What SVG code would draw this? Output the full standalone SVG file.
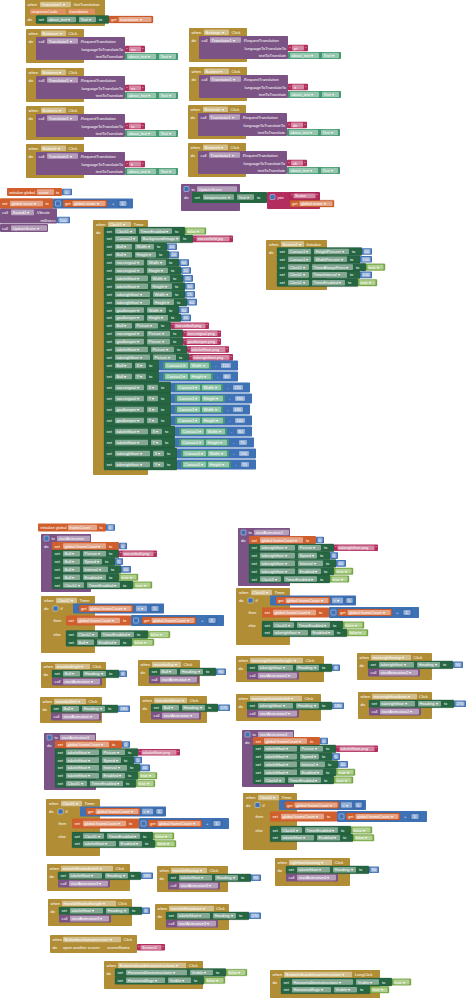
<svg xmlns="http://www.w3.org/2000/svg" width="468" height="998" viewBox="0 0 468 998">
<style>
text{font-family:"Liberation Sans",Arial,sans-serif;font-size:4px;fill:#fff;dominant-baseline:central}
.ra{text-anchor:end}
rect{rx:.8px}
.E{fill:#b18e35}.P{fill:#7c5385}.O{fill:#d05f2d}.G{fill:#266643}.N{fill:#3f71b5}.R{fill:#b32d5e}
.g{fill:#266643;stroke:#1c4e33;stroke-width:.3;y:-3.9px;height:7.8px}
.gm{fill:#266643;stroke:#1c4e33;stroke-width:.3;y:-5.5px;height:11px}
.f{fill:#fff;fill-opacity:.44;y:-2.8px;height:5.6px}
.v{fill:#fff;fill-opacity:.44;y:-2.4px;height:4.8px}
.n{fill:#3f71b5;y:-3.3px;height:6.6px}
.k{stroke:#2b5797;stroke-width:.3}
.b{fill:#77ab41;stroke:#5e8a30;stroke-width:.3;y:-3.3px;height:6.6px}
.r{fill:#b32d5e;y:-3.3px;height:6.6px}
.o{fill:#d05f2d;y:-3.9px;height:7.8px}
.og{fill:#d05f2d;stroke:#a8481f;stroke-width:.3;y:-3.4px;height:6.8px}
.c{fill:#439970;y:-3.6px;height:7.2px}
.nm{fill:#3f71b5;y:-5px;height:10px}
.p{fill:#7c5385;y:-3.9px;height:7.8px}
.pm{fill:#e09060;y:-2.8px;height:5.6px}
.ic{fill:#3f71b5;stroke:#fff;stroke-width:.4;y:-2.5px;width:5px;height:5px}
</style>
<rect width="468" height="998" fill="#fff" rx="0"/>
<g id="connectors"/>

<g id="gotTranslation">
<rect class="E" x="25" y="-2" width="80" height="28"/>
<g transform="translate(25,4.5)"><text x="2.5">when</text><rect class="f" x="15" width="31"/><text x="16.5">Translator1 ▾</text><text x="48.5">GotTranslation</text></g>
<g transform="translate(25,11.5)"><rect class="pm" x="5" width="36"/><text x="6.5">responseCode</text><rect class="pm" x="43" width="27"/><text x="44.5">translation</text></g>
<g transform="translate(25,19.5)"><text x="2.5">do</text></g>
<g transform="translate(36,19.5)"><rect class="g" width="73"/><text x="2.5">set</text><rect class="f" x="11" width="29"/><text x="12.5">about_text ▾</text><rect class="f" x="43" width="17"/><text x="44.5">Text ▾</text><text x="63">to</text><g transform="translate(73)"><rect class="og" width="44"/><text x="2">get</text><rect class="v" x="9.5" width="33"/><text x="11">translation ▾</text></g></g>
</g>

<g id="btn-en" transform="translate(26,29)">
<rect class="E" width="58" height="34"/>
<g transform="translate(0,4.2)"><text x="2.5">when</text><rect class="f" x="15" width="25"/><text x="16.5">Buttonen ▾</text><text x="42.5">Click</text></g>
<rect class="P" x="10" y="8" width="89" height="23"/>
<g transform="translate(0,12)"><text x="2.5">do</text><text x="12.5">call</text><rect class="f" x="21" width="31"/><text x="22.5">Translator1 ▾</text><text x="54">.RequestTranslation</text></g>
<g transform="translate(0,20)"><text x="97" class="ra">languageToTranslateTo</text><g transform="translate(99)"><rect class="r" width="20"/><text x="1.2">&quot;</text><rect class="v" x="4" width="12"/><text x="6">en</text><text x="17">&quot;</text></g></g>
<g transform="translate(0,27.5)"><text x="97" class="ra">textToTranslate</text><g transform="translate(99)"><rect class="c" width="53"/><rect class="f" x="2" width="29"/><text x="3.5">about_text ▾</text><rect class="f" x="34" width="17"/><text x="35.5">Text ▾</text></g></g>
</g>
<g id="btn-es" transform="translate(26,68)">
<rect class="E" width="58" height="34"/>
<g transform="translate(0,4.2)"><text x="2.5">when</text><rect class="f" x="15" width="25"/><text x="16.5">Buttones ▾</text><text x="42.5">Click</text></g>
<rect class="P" x="10" y="8" width="89" height="23"/>
<g transform="translate(0,12)"><text x="2.5">do</text><text x="12.5">call</text><rect class="f" x="21" width="31"/><text x="22.5">Translator1 ▾</text><text x="54">.RequestTranslation</text></g>
<g transform="translate(0,20)"><text x="97" class="ra">languageToTranslateTo</text><g transform="translate(99)"><rect class="r" width="20"/><text x="1.2">&quot;</text><rect class="v" x="4" width="12"/><text x="6">es</text><text x="17">&quot;</text></g></g>
<g transform="translate(0,27.5)"><text x="97" class="ra">textToTranslate</text><g transform="translate(99)"><rect class="c" width="53"/><rect class="f" x="2" width="29"/><text x="3.5">about_text ▾</text><rect class="f" x="34" width="17"/><text x="35.5">Text ▾</text></g></g>
</g>
<g id="btn-ru" transform="translate(26,106)">
<rect class="E" width="58" height="34"/>
<g transform="translate(0,4.2)"><text x="2.5">when</text><rect class="f" x="15" width="25"/><text x="16.5">Buttonru ▾</text><text x="42.5">Click</text></g>
<rect class="P" x="10" y="8" width="89" height="23"/>
<g transform="translate(0,12)"><text x="2.5">do</text><text x="12.5">call</text><rect class="f" x="21" width="31"/><text x="22.5">Translator1 ▾</text><text x="54">.RequestTranslation</text></g>
<g transform="translate(0,20)"><text x="97" class="ra">languageToTranslateTo</text><g transform="translate(99)"><rect class="r" width="20"/><text x="1.2">&quot;</text><rect class="v" x="4" width="12"/><text x="6">ru</text><text x="17">&quot;</text></g></g>
<g transform="translate(0,27.5)"><text x="97" class="ra">textToTranslate</text><g transform="translate(99)"><rect class="c" width="53"/><rect class="f" x="2" width="29"/><text x="3.5">about_text ▾</text><rect class="f" x="34" width="17"/><text x="35.5">Text ▾</text></g></g>
</g>
<g id="btn-fr" transform="translate(26,144)">
<rect class="E" width="58" height="34"/>
<g transform="translate(0,4.2)"><text x="2.5">when</text><rect class="f" x="15" width="25"/><text x="16.5">Buttonfr ▾</text><text x="42.5">Click</text></g>
<rect class="P" x="10" y="8" width="89" height="23"/>
<g transform="translate(0,12)"><text x="2.5">do</text><text x="12.5">call</text><rect class="f" x="21" width="31"/><text x="22.5">Translator1 ▾</text><text x="54">.RequestTranslation</text></g>
<g transform="translate(0,20)"><text x="97" class="ra">languageToTranslateTo</text><g transform="translate(99)"><rect class="r" width="20"/><text x="1.2">&quot;</text><rect class="v" x="4" width="12"/><text x="6">fr</text><text x="17">&quot;</text></g></g>
<g transform="translate(0,27.5)"><text x="97" class="ra">textToTranslate</text><g transform="translate(99)"><rect class="c" width="53"/><rect class="f" x="2" width="29"/><text x="3.5">about_text ▾</text><rect class="f" x="34" width="17"/><text x="35.5">Text ▾</text></g></g>
</g>
<g id="btn-pt" transform="translate(189,28)">
<rect class="E" width="58" height="34"/>
<g transform="translate(0,4.2)"><text x="2.5">when</text><rect class="f" x="15" width="25"/><text x="16.5">Buttonpt ▾</text><text x="42.5">Click</text></g>
<rect class="P" x="10" y="8" width="89" height="23"/>
<g transform="translate(0,12)"><text x="2.5">do</text><text x="12.5">call</text><rect class="f" x="21" width="31"/><text x="22.5">Translator1 ▾</text><text x="54">.RequestTranslation</text></g>
<g transform="translate(0,20)"><text x="97" class="ra">languageToTranslateTo</text><g transform="translate(99)"><rect class="r" width="20"/><text x="1.2">&quot;</text><rect class="v" x="4" width="12"/><text x="6">pt</text><text x="17">&quot;</text></g></g>
<g transform="translate(0,27.5)"><text x="97" class="ra">textToTranslate</text><g transform="translate(99)"><rect class="c" width="53"/><rect class="f" x="2" width="29"/><text x="3.5">about_text ▾</text><rect class="f" x="34" width="17"/><text x="35.5">Text ▾</text></g></g>
</g>
<g id="btn-it" transform="translate(189,67)">
<rect class="E" width="58" height="34"/>
<g transform="translate(0,4.2)"><text x="2.5">when</text><rect class="f" x="15" width="25"/><text x="16.5">Buttonit ▾</text><text x="42.5">Click</text></g>
<rect class="P" x="10" y="8" width="89" height="23"/>
<g transform="translate(0,12)"><text x="2.5">do</text><text x="12.5">call</text><rect class="f" x="21" width="31"/><text x="22.5">Translator1 ▾</text><text x="54">.RequestTranslation</text></g>
<g transform="translate(0,20)"><text x="97" class="ra">languageToTranslateTo</text><g transform="translate(99)"><rect class="r" width="20"/><text x="1.2">&quot;</text><rect class="v" x="4" width="12"/><text x="6">it</text><text x="17">&quot;</text></g></g>
<g transform="translate(0,27.5)"><text x="97" class="ra">textToTranslate</text><g transform="translate(99)"><rect class="c" width="53"/><rect class="f" x="2" width="29"/><text x="3.5">about_text ▾</text><rect class="f" x="34" width="17"/><text x="35.5">Text ▾</text></g></g>
</g>
<g id="btn-de" transform="translate(188,105)">
<rect class="E" width="58" height="34"/>
<g transform="translate(0,4.2)"><text x="2.5">when</text><rect class="f" x="15" width="25"/><text x="16.5">Buttonde ▾</text><text x="42.5">Click</text></g>
<rect class="P" x="10" y="8" width="89" height="23"/>
<g transform="translate(0,12)"><text x="2.5">do</text><text x="12.5">call</text><rect class="f" x="21" width="31"/><text x="22.5">Translator1 ▾</text><text x="54">.RequestTranslation</text></g>
<g transform="translate(0,20)"><text x="97" class="ra">languageToTranslateTo</text><g transform="translate(99)"><rect class="r" width="20"/><text x="1.2">&quot;</text><rect class="v" x="4" width="12"/><text x="6">de</text><text x="17">&quot;</text></g></g>
<g transform="translate(0,27.5)"><text x="97" class="ra">textToTranslate</text><g transform="translate(99)"><rect class="c" width="53"/><rect class="f" x="2" width="29"/><text x="3.5">about_text ▾</text><rect class="f" x="34" width="17"/><text x="35.5">Text ▾</text></g></g>
</g>
<g id="btn-zh" transform="translate(188,143)">
<rect class="E" width="58" height="34"/>
<g transform="translate(0,4.2)"><text x="2.5">when</text><rect class="f" x="15" width="25"/><text x="16.5">Buttonzh ▾</text><text x="42.5">Click</text></g>
<rect class="P" x="10" y="8" width="89" height="23"/>
<g transform="translate(0,12)"><text x="2.5">do</text><text x="12.5">call</text><rect class="f" x="21" width="31"/><text x="22.5">Translator1 ▾</text><text x="54">.RequestTranslation</text></g>
<g transform="translate(0,20)"><text x="97" class="ra">languageToTranslateTo</text><g transform="translate(99)"><rect class="r" width="20"/><text x="1.2">&quot;</text><rect class="v" x="4" width="12"/><text x="6">zh</text><text x="17">&quot;</text></g></g>
<g transform="translate(0,27.5)"><text x="97" class="ra">textToTranslate</text><g transform="translate(99)"><rect class="c" width="53"/><rect class="f" x="2" width="29"/><text x="3.5">about_text ▾</text><rect class="f" x="34" width="17"/><text x="35.5">Text ▾</text></g></g>
</g>

<g id="initScore" transform="translate(7,192)"><rect class="o" width="55"/><text x="2">initialize global</text><rect class="f" x="30" width="17"/><text x="31.5">score</text><text x="49">to</text><g transform="translate(55)"><rect class="n" width="10"/><rect class="v" x="1.5" width="7"/><text x="3.5">0</text></g></g>

<g id="setScore" transform="translate(0,203.5)"><rect class="O" y="-5.2" width="53" height="10.4"/><text x="2">set</text><rect class="f" x="10" width="33"/><text x="11.5">global score ▾</text><text x="45.5">to</text>
<g transform="translate(53)"><rect class="nm" width="80"/><rect class="ic" x="2.5"/><g transform="translate(10)"><rect class="og" width="44"/><text x="2">get</text><rect class="v" x="9.5" width="33"/><text x="11">global score ▾</text></g><text x="59">+</text><rect class="n k" x="65" width="10"/><rect class="v" x="66.5" width="7"/><text x="68.5">1</text></g></g>

<g id="vibrate"><rect class="P" x="0" y="208.6" width="57" height="15"/><g transform="translate(0,212.4)"><text x="2">call</text><rect class="f" x="11" width="23"/><text x="12.5">Sound1 ▾</text><text x="36">.Vibrate</text></g><g transform="translate(0,220)"><text x="55.5" class="ra">millisecs</text><g transform="translate(57)"><rect class="n" width="13"/><rect class="v" x="1.5" width="10"/><text x="2.8">100</text></g></g></g>

<g id="callUpdateScore" transform="translate(0,228)"><rect class="p" width="48"/><text x="2">call</text><rect class="f" x="11" width="36"/><text x="12.5">UpdateScore ▾</text></g>

<g id="procUpdateScore" transform="translate(181,184)">
<rect class="P" width="59" height="27"/>
<g transform="translate(0,5)"><rect class="ic" x="3"/><text x="10.5">to</text><rect class="f" x="16" width="40"/><text x="17.5">UpdateScore</text></g>
<g transform="translate(0,13)"><text x="3">do</text></g>
<g transform="translate(11,13)"><rect class="G" y="-5" width="75" height="11"/><text x="2.5">set</text><rect class="f" x="11" width="31"/><text x="12.5">keeperscore ▾</text><rect class="f" x="45" width="17"/><text x="46.5">Text ▾</text><text x="65">to</text>
<g transform="translate(75)"><rect class="R" y="-5" width="53" height="17"/><rect class="ic" x="3" y="-2.5"/><text x="10.5">join</text>
<g transform="translate(23,-1.2)"><rect class="r" width="29" style="stroke:#87203f;stroke-width:.3"/><text x="1">&quot;</text><rect class="v" x="3.5" width="22"/><text x="5">Score:</text><text x="26.3">&quot;</text></g>
<g transform="translate(23,6.6)"><rect class="og" width="44"/><text x="2">get</text><rect class="v" x="9.5" width="33"/><text x="11">global score ▾</text></g></g></g>
</g>

<g id="clock1Timer">
<rect class="E" x="93" y="220" width="55" height="255"/>
<g transform="translate(93,224.5)"><text x="3">when</text><rect class="f" x="15" width="23"/><text x="16.5">Clock1 ▾</text><text x="40.5">Timer</text></g>
<g transform="translate(93,232)"><text x="3">do</text></g>
<g transform="translate(104,231)"><rect class="g" width="81"/><text x="2.5">set</text><rect class="f" x="11" width="21"/><text x="12.5">Clock1 ▾</text><rect class="f" x="35" width="33"/><text x="36.5">TimerEnabled ▾</text><text x="71">to</text><g transform="translate(81)"><rect class="b" width="21"/><rect class="v" x="1.5" width="18"/><text x="2.5">false ▾</text></g></g>
<g transform="translate(104,238.9)"><rect class="g" width="89"/><text x="2.5">set</text><rect class="f" x="11" width="23"/><text x="12.5">Canvas1 ▾</text><rect class="f" x="37" width="39"/><text x="38.5">BackgroundImage ▾</text><text x="79">to</text><g transform="translate(89)"><rect class="r" width="40"/><text x="1">&quot;</text><rect class="v" x="3.5" width="33"/><text x="4.5">soccerfield.jpg</text><text x="37.5">&quot;</text></g></g>
<g transform="translate(104,246.8)"><rect class="g" width="63"/><text x="2.5">set</text><rect class="f" x="11" width="17"/><text x="12.5">Ball ▾</text><rect class="f" x="31" width="19"/><text x="32.5">Width ▾</text><text x="53">to</text><g transform="translate(63)"><rect class="n" width="10"/><rect class="v" x="1.5" width="7"/><text x="2.5">10</text></g></g>
<g transform="translate(104,254.7)"><rect class="g" width="65"/><text x="2.5">set</text><rect class="f" x="11" width="17"/><text x="12.5">Ball ▾</text><rect class="f" x="31" width="21"/><text x="32.5">Height ▾</text><text x="55">to</text><g transform="translate(65)"><rect class="n" width="10"/><rect class="v" x="1.5" width="7"/><text x="2.5">10</text></g></g>
<g transform="translate(104,262.6)"><rect class="g" width="75"/><text x="2.5">set</text><rect class="f" x="11" width="29"/><text x="12.5">soccergoal ▾</text><rect class="f" x="43" width="19"/><text x="44.5">Width ▾</text><text x="65">to</text><g transform="translate(75)"><rect class="n" width="10"/><rect class="v" x="1.5" width="7"/><text x="2.5">60</text></g></g>
<g transform="translate(104,270.5)"><rect class="g" width="77"/><text x="2.5">set</text><rect class="f" x="11" width="29"/><text x="12.5">soccergoal ▾</text><rect class="f" x="43" width="21"/><text x="44.5">Height ▾</text><text x="67">to</text><g transform="translate(77)"><rect class="n" width="10"/><rect class="v" x="1.5" width="7"/><text x="2.5">40</text></g></g>
<g transform="translate(104,278.4)"><rect class="g" width="79"/><text x="2.5">set</text><rect class="f" x="11" width="33"/><text x="12.5">takeleftfoot ▾</text><rect class="f" x="47" width="19"/><text x="48.5">Width ▾</text><text x="69">to</text><g transform="translate(79)"><rect class="n" width="10"/><rect class="v" x="1.5" width="7"/><text x="2.5">25</text></g></g>
<g transform="translate(104,286.3)"><rect class="g" width="81"/><text x="2.5">set</text><rect class="f" x="11" width="33"/><text x="12.5">takeleftfoot ▾</text><rect class="f" x="47" width="21"/><text x="48.5">Height ▾</text><text x="71">to</text><g transform="translate(81)"><rect class="n" width="10"/><rect class="v" x="1.5" width="7"/><text x="2.5">60</text></g></g>
<g transform="translate(104,294.2)"><rect class="g" width="81"/><text x="2.5">set</text><rect class="f" x="11" width="35"/><text x="12.5">takerightfoot ▾</text><rect class="f" x="49" width="19"/><text x="50.5">Width ▾</text><text x="71">to</text><g transform="translate(81)"><rect class="n" width="10"/><rect class="v" x="1.5" width="7"/><text x="2.5">25</text></g></g>
<g transform="translate(104,302.1)"><rect class="g" width="83"/><text x="2.5">set</text><rect class="f" x="11" width="35"/><text x="12.5">takerightfoot ▾</text><rect class="f" x="49" width="21"/><text x="50.5">Height ▾</text><text x="73">to</text><g transform="translate(83)"><rect class="n" width="10"/><rect class="v" x="1.5" width="7"/><text x="2.5">60</text></g></g>
<g transform="translate(104,310)"><rect class="g" width="75"/><text x="2.5">set</text><rect class="f" x="11" width="29"/><text x="12.5">goalkeeper ▾</text><rect class="f" x="43" width="19"/><text x="44.5">Width ▾</text><text x="65">to</text><g transform="translate(75)"><rect class="n" width="10"/><rect class="v" x="1.5" width="7"/><text x="2.5">30</text></g></g>
<g transform="translate(104,317.9)"><rect class="g" width="77"/><text x="2.5">set</text><rect class="f" x="11" width="29"/><text x="12.5">goalkeeper ▾</text><rect class="f" x="43" width="21"/><text x="44.5">Height ▾</text><text x="67">to</text><g transform="translate(77)"><rect class="n" width="10"/><rect class="v" x="1.5" width="7"/><text x="2.5">40</text></g></g>
<g transform="translate(104,325.8)"><rect class="g" width="67"/><text x="2.5">set</text><rect class="f" x="11" width="17"/><text x="12.5">Ball ▾</text><rect class="f" x="31" width="23"/><text x="32.5">Picture ▾</text><text x="57">to</text><g transform="translate(67)"><rect class="r" width="38"/><text x="1">&quot;</text><rect class="v" x="3.5" width="31"/><text x="4.5">soccerball.png</text><text x="35.5">&quot;</text></g></g>
<g transform="translate(104,333.7)"><rect class="g" width="79"/><text x="2.5">set</text><rect class="f" x="11" width="29"/><text x="12.5">soccergoal ▾</text><rect class="f" x="43" width="23"/><text x="44.5">Picture ▾</text><text x="69">to</text><g transform="translate(79)"><rect class="r" width="38"/><text x="1">&quot;</text><rect class="v" x="3.5" width="31"/><text x="4.5">soccergoal.png</text><text x="35.5">&quot;</text></g></g>
<g transform="translate(104,341.6)"><rect class="g" width="79"/><text x="2.5">set</text><rect class="f" x="11" width="29"/><text x="12.5">goalkeeper ▾</text><rect class="f" x="43" width="23"/><text x="44.5">Picture ▾</text><text x="69">to</text><g transform="translate(79)"><rect class="r" width="38"/><text x="1">&quot;</text><rect class="v" x="3.5" width="31"/><text x="4.5">goalkeeper.png</text><text x="35.5">&quot;</text></g></g>
<g transform="translate(104,349.5)"><rect class="g" width="83"/><text x="2.5">set</text><rect class="f" x="11" width="33"/><text x="12.5">takeleftfoot ▾</text><rect class="f" x="47" width="23"/><text x="48.5">Picture ▾</text><text x="73">to</text><g transform="translate(83)"><rect class="r" width="42"/><text x="1">&quot;</text><rect class="v" x="3.5" width="35"/><text x="4.5">takeleftfoot.png</text><text x="39.5">&quot;</text></g></g>
<g transform="translate(104,357.4)"><rect class="g" width="85"/><text x="2.5">set</text><rect class="f" x="11" width="35"/><text x="12.5">takerightfoot ▾</text><rect class="f" x="49" width="23"/><text x="50.5">Picture ▾</text><text x="75">to</text><g transform="translate(85)"><rect class="r" width="44"/><text x="1">&quot;</text><rect class="v" x="3.5" width="37"/><text x="4.5">takerightfoot.png</text><text x="41.5">&quot;</text></g></g>
<g transform="translate(104,365.5)"><rect class="gm" width="55"/><text x="2.5">set</text><rect class="f" x="11" width="17"/><text x="12.5">Ball ▾</text><rect class="f" x="31" width="11"/><text x="32.5">X ▾</text><text x="45">to</text><g transform="translate(55)"><rect class="nm" width="79"/><rect class="c" x="4" width="48"/><rect class="f" x="6" width="23"/><text x="7.5">Canvas1 ▾</text><rect class="f" x="31" width="19"/><text x="32.5">Width ▾</text><text x="56">-</text><rect class="v" x="62" width="10"/><text x="63.2">155</text></g></g>
<g transform="translate(104,376.5)"><rect class="gm" width="55"/><text x="2.5">set</text><rect class="f" x="11" width="17"/><text x="12.5">Ball ▾</text><rect class="f" x="31" width="11"/><text x="32.5">Y ▾</text><text x="45">to</text><g transform="translate(55)"><rect class="nm" width="79"/><rect class="c" x="4" width="50"/><rect class="f" x="6" width="23"/><text x="7.5">Canvas1 ▾</text><rect class="f" x="31" width="21"/><text x="32.5">Height ▾</text><text x="58">-</text><rect class="v" x="64" width="8"/><text x="65.2">80</text></g></g>
<g transform="translate(104,387.5)"><rect class="gm" width="67"/><text x="2.5">set</text><rect class="f" x="11" width="29"/><text x="12.5">soccergoal ▾</text><rect class="f" x="43" width="11"/><text x="44.5">X ▾</text><text x="57">to</text><g transform="translate(67)"><rect class="nm" width="79"/><rect class="c" x="4" width="48"/><rect class="f" x="6" width="23"/><text x="7.5">Canvas1 ▾</text><rect class="f" x="31" width="19"/><text x="32.5">Width ▾</text><text x="56">-</text><rect class="v" x="62" width="10"/><text x="63.2">220</text></g></g>
<g transform="translate(104,398.5)"><rect class="gm" width="67"/><text x="2.5">set</text><rect class="f" x="11" width="29"/><text x="12.5">soccergoal ▾</text><rect class="f" x="43" width="11"/><text x="44.5">Y ▾</text><text x="57">to</text><g transform="translate(67)"><rect class="nm" width="81"/><rect class="c" x="4" width="50"/><rect class="f" x="6" width="23"/><text x="7.5">Canvas1 ▾</text><rect class="f" x="31" width="21"/><text x="32.5">Height ▾</text><text x="58">-</text><rect class="v" x="64" width="10"/><text x="65.2">390</text></g></g>
<g transform="translate(104,409.5)"><rect class="gm" width="67"/><text x="2.5">set</text><rect class="f" x="11" width="29"/><text x="12.5">goalkeeper ▾</text><rect class="f" x="43" width="11"/><text x="44.5">X ▾</text><text x="57">to</text><g transform="translate(67)"><rect class="nm" width="79"/><rect class="c" x="4" width="48"/><rect class="f" x="6" width="23"/><text x="7.5">Canvas1 ▾</text><rect class="f" x="31" width="19"/><text x="32.5">Width ▾</text><text x="56">-</text><rect class="v" x="62" width="10"/><text x="63.2">180</text></g></g>
<g transform="translate(104,420.5)"><rect class="gm" width="67"/><text x="2.5">set</text><rect class="f" x="11" width="29"/><text x="12.5">goalkeeper ▾</text><rect class="f" x="43" width="11"/><text x="44.5">Y ▾</text><text x="57">to</text><g transform="translate(67)"><rect class="nm" width="81"/><rect class="c" x="4" width="50"/><rect class="f" x="6" width="23"/><text x="7.5">Canvas1 ▾</text><rect class="f" x="31" width="21"/><text x="32.5">Height ▾</text><text x="58">-</text><rect class="v" x="64" width="10"/><text x="65.2">340</text></g></g>
<g transform="translate(104,431.5)"><rect class="gm" width="71"/><text x="2.5">set</text><rect class="f" x="11" width="33"/><text x="12.5">takeleftfoot ▾</text><rect class="f" x="47" width="11"/><text x="48.5">X ▾</text><text x="61">to</text><g transform="translate(71)"><rect class="nm" width="77"/><rect class="c" x="4" width="48"/><rect class="f" x="6" width="23"/><text x="7.5">Canvas1 ▾</text><rect class="f" x="31" width="19"/><text x="32.5">Width ▾</text><text x="56">-</text><rect class="v" x="62" width="8"/><text x="63.2">80</text></g></g>
<g transform="translate(104,442.5)"><rect class="gm" width="71"/><text x="2.5">set</text><rect class="f" x="11" width="33"/><text x="12.5">takeleftfoot ▾</text><rect class="f" x="47" width="11"/><text x="48.5">Y ▾</text><text x="61">to</text><g transform="translate(71)"><rect class="nm" width="79"/><rect class="c" x="4" width="50"/><rect class="f" x="6" width="23"/><text x="7.5">Canvas1 ▾</text><rect class="f" x="31" width="21"/><text x="32.5">Height ▾</text><text x="58">-</text><rect class="v" x="64" width="8"/><text x="65.2">70</text></g></g>
<g transform="translate(104,453.5)"><rect class="gm" width="73"/><text x="2.5">set</text><rect class="f" x="11" width="35"/><text x="12.5">takerightfoot ▾</text><rect class="f" x="49" width="11"/><text x="50.5">X ▾</text><text x="63">to</text><g transform="translate(73)"><rect class="nm" width="79"/><rect class="c" x="4" width="48"/><rect class="f" x="6" width="23"/><text x="7.5">Canvas1 ▾</text><rect class="f" x="31" width="19"/><text x="32.5">Width ▾</text><text x="56">-</text><rect class="v" x="62" width="10"/><text x="63.2">200</text></g></g>
<g transform="translate(104,464.5)"><rect class="gm" width="73"/><text x="2.5">set</text><rect class="f" x="11" width="35"/><text x="12.5">takerightfoot ▾</text><rect class="f" x="49" width="11"/><text x="50.5">Y ▾</text><text x="63">to</text><g transform="translate(73)"><rect class="nm" width="79"/><rect class="c" x="4" width="50"/><rect class="f" x="6" width="23"/><text x="7.5">Canvas1 ▾</text><rect class="f" x="31" width="21"/><text x="32.5">Height ▾</text><text x="58">-</text><rect class="v" x="64" width="8"/><text x="65.2">70</text></g></g>
</g>

<g id="screen2Init">
<rect class="E" x="266" y="240" width="61" height="50"/>
<g transform="translate(266,244)"><text x="3">when</text><rect class="f" x="15" width="23"/><text x="16.5">Screen2 ▾</text><text x="40.5">Initialize</text></g>
<g transform="translate(266,252)"><text x="3">do</text></g>
<g transform="translate(277,251.5)"><rect class="g" width="85"/><text x="2.5">set</text><rect class="f" x="11" width="23"/><text x="12.5">Canvas1 ▾</text><rect class="f" x="37" width="35"/><text x="38.5">HeightPercent ▾</text><text x="75">to</text><g transform="translate(85)"><rect class="n" width="10"/><rect class="v" x="1.5" width="7"/><text x="2.5">60</text></g></g>
<g transform="translate(277,259.3)"><rect class="g" width="83"/><text x="2.5">set</text><rect class="f" x="11" width="23"/><text x="12.5">Canvas1 ▾</text><rect class="f" x="37" width="33"/><text x="38.5">WidthPercent ▾</text><text x="73">to</text><g transform="translate(83)"><rect class="n" width="12"/><rect class="v" x="1.5" width="9"/><text x="2.5">100</text></g></g>
<g transform="translate(277,267.1)"><rect class="g" width="89"/><text x="2.5">set</text><rect class="f" x="11" width="21"/><text x="12.5">Clock1 ▾</text><rect class="f" x="35" width="41"/><text x="36.5">TimerAlwaysFires ▾</text><text x="79">to</text><g transform="translate(89)"><rect class="b" width="19"/><rect class="v" x="1.5" width="16"/><text x="2.5">true ▾</text></g></g>
<g transform="translate(277,274.9)"><rect class="g" width="83"/><text x="2.5">set</text><rect class="f" x="11" width="21"/><text x="12.5">Clock1 ▾</text><rect class="f" x="35" width="35"/><text x="36.5">TimerInterval ▾</text><text x="73">to</text><g transform="translate(83)"><rect class="n" width="12"/><rect class="v" x="1.5" width="9"/><text x="2.5">100</text></g></g>
<g transform="translate(277,282.7)"><rect class="g" width="81"/><text x="2.5">set</text><rect class="f" x="11" width="21"/><text x="12.5">Clock1 ▾</text><rect class="f" x="35" width="33"/><text x="36.5">TimerEnabled ▾</text><text x="71">to</text><g transform="translate(81)"><rect class="b" width="19"/><rect class="v" x="1.5" width="16"/><text x="2.5">true ▾</text></g></g>
</g>

<g id="initFrameCount" transform="translate(38,527.5)"><rect class="o" width="68"/><text x="2.5">initialize global</text><rect class="f" x="30" width="29"/><text x="31.5">frameCount</text><text x="61.5">to</text><g transform="translate(68)"><rect class="n" width="9"/><rect class="v" x="1.5" width="6"/><text x="3">0</text></g></g>

<g id="procStartAnimation" transform="translate(41,534)">
<rect class="P" width="50" height="58"/>
<g transform="translate(0,4.5)"><rect class="ic" x="3"/><text x="10.5">to</text><rect class="f" x="16" width="33"/><text x="17.5">startAnimation</text></g>
<g transform="translate(0,12.5)"><text x="3">do</text></g>
<g transform="translate(11,12)"><rect class="o" width="67"/><text x="2.5">set</text><rect class="f" x="11" width="43"/><text x="12.5">global frameCount ▾</text><text x="57">to</text><g transform="translate(67)"><rect class="n" width="8"/><rect class="v" x="1.5" width="5"/><text x="2.5">0</text></g></g>
<g transform="translate(11,19.8)"><rect class="g" width="67"/><text x="2.5">set</text><rect class="f" x="11" width="17"/><text x="12.5">Ball ▾</text><rect class="f" x="31" width="23"/><text x="32.5">Picture ▾</text><text x="57">to</text><g transform="translate(67)"><rect class="r" width="38"/><text x="1">&quot;</text><rect class="v" x="3.5" width="31"/><text x="4.5">soccerball.png</text><text x="35.5">&quot;</text></g></g>
<g transform="translate(11,27.6)"><rect class="g" width="63"/><text x="2.5">set</text><rect class="f" x="11" width="17"/><text x="12.5">Ball ▾</text><rect class="f" x="31" width="19"/><text x="32.5">Speed ▾</text><text x="53">to</text><g transform="translate(63)"><rect class="n" width="8"/><rect class="v" x="1.5" width="5"/><text x="2.5">5</text></g></g>
<g transform="translate(11,35.4)"><rect class="g" width="69"/><text x="2.5">set</text><rect class="f" x="11" width="17"/><text x="12.5">Ball ▾</text><rect class="f" x="31" width="25"/><text x="32.5">Interval ▾</text><text x="59">to</text><g transform="translate(69)"><rect class="n" width="10"/><rect class="v" x="1.5" width="7"/><text x="2.5">40</text></g></g>
<g transform="translate(11,43.2)"><rect class="g" width="67"/><text x="2.5">set</text><rect class="f" x="11" width="17"/><text x="12.5">Ball ▾</text><rect class="f" x="31" width="23"/><text x="32.5">Enabled ▾</text><text x="57">to</text><g transform="translate(67)"><rect class="b" width="19"/><rect class="v" x="1.5" width="16"/><text x="2.5">true ▾</text></g></g>
<g transform="translate(11,51)"><rect class="g" width="81"/><text x="2.5">set</text><rect class="f" x="11" width="21"/><text x="12.5">Clock2 ▾</text><rect class="f" x="35" width="33"/><text x="36.5">TimerEnabled ▾</text><text x="71">to</text><g transform="translate(81)"><rect class="b" width="19"/><rect class="v" x="1.5" width="16"/><text x="2.5">true ▾</text></g></g>
</g>

<g id="clock2Timer" transform="translate(41,596)">
<rect class="E" width="54" height="57"/>
<g transform="translate(0,4.5)"><text x="3">when</text><rect class="f" x="15" width="21"/><text x="16.5">Clock2 ▾</text><text x="38.5">Timer</text></g>
<g transform="translate(0,12.5)"><text x="3">do</text><rect class="ic" x="12"/><text x="19.5">if</text><g transform="translate(32)"><rect class="nm" width="91"/><g transform="translate(6)"><rect class="og" width="54"/><text x="2">get</text><rect class="v" x="9.5" width="43"/><text x="11">global frameCount ▾</text></g><rect class="f" x="63" width="11"/><text x="64.5">&lt; ▾</text><rect class="n k" x="77" width="10"/><rect class="v" x="78.5" width="7"/><text x="80.5">5</text></g></g>
<g transform="translate(0,24.5)"><text x="12.5">then</text><g transform="translate(25)"><rect class="O" y="-5" width="65" height="10"/><text x="2.5">set</text><rect class="f" x="11" width="43"/><text x="12.5">global frameCount ▾</text><text x="57">to</text></g><g transform="translate(90)"><rect class="N" y="-5.5" width="93" height="11"/><rect class="ic" x="2.5"/><g transform="translate(11)"><rect class="og" width="54"/><text x="2">get</text><rect class="v" x="9.5" width="43"/><text x="11">global frameCount ▾</text></g><text x="70">+</text><rect class="n k" x="76" width="10"/><rect class="v" x="77.5" width="7"/><text x="79.5">1</text></g></g>
<g transform="translate(0,38.5)"><text x="12.5">else</text></g>
<g transform="translate(25,38.5)"><rect class="g" width="82"/><text x="2.5">set</text><rect class="f" x="11" width="21"/><text x="12.5">Clock2 ▾</text><rect class="f" x="35" width="33"/><text x="36.5">TimerEnabled ▾</text><text x="71">to</text><g transform="translate(82)"><rect class="b" width="22"/><rect class="v" x="1.5" width="19"/><text x="2.5">false ▾</text></g></g>
<g transform="translate(25,46.3)"><rect class="g" width="66"/><text x="2.5">set</text><rect class="f" x="11" width="17"/><text x="12.5">Ball ▾</text><rect class="f" x="31" width="23"/><text x="32.5">Enabled ▾</text><text x="57">to</text><g transform="translate(66)"><rect class="b" width="22"/><rect class="v" x="1.5" width="19"/><text x="2.5">false ▾</text></g></g>
</g>

<g id="procStartAnimation2" transform="translate(238,528)">
<rect class="P" width="52" height="58"/>
<g transform="translate(0,4.5)"><rect class="ic" x="3"/><text x="10.5">to</text><rect class="f" x="16" width="35"/><text x="17.5">startAnimation2</text></g>
<g transform="translate(0,12.5)"><text x="3">do</text></g>
<g transform="translate(11,12)"><rect class="o" width="67"/><text x="2.5">set</text><rect class="f" x="11" width="43"/><text x="12.5">global frameCount ▾</text><text x="57">to</text><g transform="translate(67)"><rect class="n" width="8"/><rect class="v" x="1.5" width="5"/><text x="2.5">0</text></g></g>
<g transform="translate(11,19.8)"><rect class="g" width="85"/><text x="2.5">set</text><rect class="f" x="11" width="35"/><text x="12.5">takerightfoot ▾</text><rect class="f" x="49" width="23"/><text x="50.5">Picture ▾</text><text x="75">to</text><g transform="translate(85)"><rect class="r" width="44"/><text x="1">&quot;</text><rect class="v" x="3.5" width="37"/><text x="4.5">takerightfoot.png</text><text x="41.5">&quot;</text></g></g>
<g transform="translate(11,27.6)"><rect class="g" width="81"/><text x="2.5">set</text><rect class="f" x="11" width="35"/><text x="12.5">takerightfoot ▾</text><rect class="f" x="49" width="19"/><text x="50.5">Speed ▾</text><text x="71">to</text><g transform="translate(81)"><rect class="n" width="8"/><rect class="v" x="1.5" width="5"/><text x="2.5">5</text></g></g>
<g transform="translate(11,35.4)"><rect class="g" width="87"/><text x="2.5">set</text><rect class="f" x="11" width="35"/><text x="12.5">takerightfoot ▾</text><rect class="f" x="49" width="25"/><text x="50.5">Interval ▾</text><text x="77">to</text><g transform="translate(87)"><rect class="n" width="10"/><rect class="v" x="1.5" width="7"/><text x="2.5">40</text></g></g>
<g transform="translate(11,43.2)"><rect class="g" width="85"/><text x="2.5">set</text><rect class="f" x="11" width="35"/><text x="12.5">takerightfoot ▾</text><rect class="f" x="49" width="23"/><text x="50.5">Enabled ▾</text><text x="75">to</text><g transform="translate(85)"><rect class="b" width="19"/><rect class="v" x="1.5" width="16"/><text x="2.5">true ▾</text></g></g>
<g transform="translate(11,51)"><rect class="g" width="81"/><text x="2.5">set</text><rect class="f" x="11" width="21"/><text x="12.5">Clock3 ▾</text><rect class="f" x="35" width="33"/><text x="36.5">TimerEnabled ▾</text><text x="71">to</text><g transform="translate(81)"><rect class="b" width="19"/><rect class="v" x="1.5" width="16"/><text x="2.5">true ▾</text></g></g>
</g>

<g id="clock3Timer" transform="translate(236,588)">
<rect class="E" width="54" height="57"/>
<g transform="translate(0,4.5)"><text x="3">when</text><rect class="f" x="15" width="21"/><text x="16.5">Clock3 ▾</text><text x="38.5">Timer</text></g>
<g transform="translate(0,12.5)"><text x="3">do</text><rect class="ic" x="12"/><text x="19.5">if</text><g transform="translate(34)"><rect class="nm" width="86"/><g transform="translate(6)"><rect class="og" width="54"/><text x="2">get</text><rect class="v" x="9.5" width="43"/><text x="11">global frameCount ▾</text></g><rect class="f" x="62" width="11"/><text x="63.5">&lt; ▾</text><rect class="n k" x="75" width="9"/><rect class="v" x="76.3" width="6.4"/><text x="78">5</text></g></g>
<g transform="translate(0,24.5)"><text x="12.5">then</text><g transform="translate(26)"><rect class="O" y="-5" width="67" height="10"/><text x="2.5">set</text><rect class="f" x="11" width="43"/><text x="12.5">global frameCount ▾</text><text x="57">to</text></g><g transform="translate(93)"><rect class="N" y="-5.5" width="90" height="11"/><rect class="ic" x="2"/><g transform="translate(9)"><rect class="og" width="54"/><text x="2">get</text><rect class="v" x="9.5" width="43"/><text x="11">global frameCount ▾</text></g><text x="67">+</text><rect class="n k" x="73" width="10"/><rect class="v" x="74.5" width="7"/><text x="76.5">1</text></g></g>
<g transform="translate(0,37)"><text x="12.5">else</text></g>
<g transform="translate(26,37)"><rect class="g" width="81"/><text x="2.5">set</text><rect class="f" x="11" width="21"/><text x="12.5">Clock3 ▾</text><rect class="f" x="35" width="33"/><text x="36.5">TimerEnabled ▾</text><text x="71">to</text><g transform="translate(81)"><rect class="b" width="21"/><rect class="v" x="1.5" width="18"/><text x="2.5">false ▾</text></g></g>
<g transform="translate(26,44.8)"><rect class="g" width="85"/><text x="2.5">set</text><rect class="f" x="11" width="35"/><text x="12.5">takerightfoot ▾</text><rect class="f" x="49" width="23"/><text x="50.5">Enabled ▾</text><text x="75">to</text><g transform="translate(85)"><rect class="b" width="21"/><rect class="v" x="1.5" width="18"/><text x="2.5">false ▾</text></g></g>
</g>

<g id="moveballright" transform="translate(41,662)">
<rect class="E" width="65" height="26"/>
<g transform="translate(0,4.5)"><text x="2.5">when</text><rect class="f" x="14" width="35"/><text x="15.5">moveballright ▾</text><text x="51.5">Click</text></g>
<g transform="translate(0,12)"><text x="2.5">do</text></g>
<g transform="translate(11,11.8)"><rect class="g" width="67"/><text x="2.5">set</text><rect class="f" x="11" width="17"/><text x="12.5">Ball ▾</text><rect class="f" x="31" width="23"/><text x="32.5">Heading ▾</text><text x="57">to</text><g transform="translate(67)"><rect class="n" width="8"/><rect class="v" x="1.5" width="5"/><text x="2.5">0</text></g></g>
<g transform="translate(11,19.6)"><rect class="p" width="50"/><text x="2.5">call</text><rect class="f" x="11" width="37"/><text x="12.5">startAnimation ▾</text></g>
</g>
<g id="moveballup" transform="translate(138,660)">
<rect class="E" width="62" height="26"/>
<g transform="translate(0,4.5)"><text x="2.5">when</text><rect class="f" x="14" width="29"/><text x="15.5">moveballup ▾</text><text x="45.5">Click</text></g>
<g transform="translate(0,12)"><text x="2.5">do</text></g>
<g transform="translate(11,11.8)"><rect class="g" width="67"/><text x="2.5">set</text><rect class="f" x="11" width="17"/><text x="12.5">Ball ▾</text><rect class="f" x="31" width="23"/><text x="32.5">Heading ▾</text><text x="57">to</text><g transform="translate(67)"><rect class="n" width="10"/><rect class="v" x="1.5" width="7"/><text x="2.5">90</text></g></g>
<g transform="translate(11,19.6)"><rect class="p" width="50"/><text x="2.5">call</text><rect class="f" x="11" width="37"/><text x="12.5">startAnimation ▾</text></g>
</g>
<g id="moveballleft" transform="translate(40,697)">
<rect class="E" width="62" height="26"/>
<g transform="translate(0,4.5)"><text x="2.5">when</text><rect class="f" x="14" width="32"/><text x="15.5">moveballleft ▾</text><text x="48.5">Click</text></g>
<g transform="translate(0,12)"><text x="2.5">do</text></g>
<g transform="translate(11,11.8)"><rect class="g" width="67"/><text x="2.5">set</text><rect class="f" x="11" width="17"/><text x="12.5">Ball ▾</text><rect class="f" x="31" width="23"/><text x="32.5">Heading ▾</text><text x="57">to</text><g transform="translate(67)"><rect class="n" width="12"/><rect class="v" x="1.5" width="9"/><text x="2.5">180</text></g></g>
<g transform="translate(11,19.6)"><rect class="p" width="50"/><text x="2.5">call</text><rect class="f" x="11" width="37"/><text x="12.5">startAnimation ▾</text></g>
</g>
<g id="moveballdown" transform="translate(140,696)">
<rect class="E" width="67" height="27"/>
<g transform="translate(0,4.5)"><text x="2.5">when</text><rect class="f" x="14" width="33"/><text x="15.5">moveballdown ▾</text><text x="49.5">Click</text></g>
<g transform="translate(0,12)"><text x="2.5">do</text></g>
<g transform="translate(11,11.8)"><rect class="g" width="67"/><text x="2.5">set</text><rect class="f" x="11" width="17"/><text x="12.5">Ball ▾</text><rect class="f" x="31" width="23"/><text x="32.5">Heading ▾</text><text x="57">to</text><g transform="translate(67)"><rect class="n" width="12"/><rect class="v" x="1.5" width="9"/><text x="2.5">270</text></g></g>
<g transform="translate(11,19.6)"><rect class="p" width="50"/><text x="2.5">call</text><rect class="f" x="11" width="37"/><text x="12.5">startAnimation ▾</text></g>
</g>
<g id="moverightfoottotheright" transform="translate(236,656)">
<rect class="E" width="88" height="26"/>
<g transform="translate(0,4.5)"><text x="2.5">when</text><rect class="f" x="14" width="53"/><text x="15.5">moverightfoottotheright ▾</text><text x="69.5">Click</text></g>
<g transform="translate(0,12)"><text x="2.5">do</text></g>
<g transform="translate(11,11.8)"><rect class="g" width="85"/><text x="2.5">set</text><rect class="f" x="11" width="35"/><text x="12.5">takerightfoot ▾</text><rect class="f" x="49" width="23"/><text x="50.5">Heading ▾</text><text x="75">to</text><g transform="translate(85)"><rect class="n" width="8"/><rect class="v" x="1.5" width="5"/><text x="2.5">0</text></g></g>
<g transform="translate(11,19.6)"><rect class="p" width="52"/><text x="2.5">call</text><rect class="f" x="11" width="39"/><text x="12.5">startAnimation2 ▾</text></g>
</g>
<g id="moverightfootup" transform="translate(357,653)">
<rect class="E" width="75" height="27"/>
<g transform="translate(0,4.5)"><text x="2.5">when</text><rect class="f" x="14" width="40"/><text x="15.5">moverightfootup ▾</text><text x="56.5">Click</text></g>
<g transform="translate(0,12)"><text x="2.5">do</text></g>
<g transform="translate(11,11.8)"><rect class="g" width="85"/><text x="2.5">set</text><rect class="f" x="11" width="35"/><text x="12.5">takerightfoot ▾</text><rect class="f" x="49" width="23"/><text x="50.5">Heading ▾</text><text x="75">to</text><g transform="translate(85)"><rect class="n" width="10"/><rect class="v" x="1.5" width="7"/><text x="2.5">90</text></g></g>
<g transform="translate(11,19.6)"><rect class="p" width="52"/><text x="2.5">call</text><rect class="f" x="11" width="39"/><text x="12.5">startAnimation2 ▾</text></g>
</g>
<g id="moverightfoottotheleft" transform="translate(236,694)">
<rect class="E" width="85" height="27"/>
<g transform="translate(0,4.5)"><text x="2.5">when</text><rect class="f" x="14" width="52"/><text x="15.5">moverightfoottotheleft ▾</text><text x="68.5">Click</text></g>
<g transform="translate(0,12)"><text x="2.5">do</text></g>
<g transform="translate(11,11.8)"><rect class="g" width="85"/><text x="2.5">set</text><rect class="f" x="11" width="35"/><text x="12.5">takerightfoot ▾</text><rect class="f" x="49" width="23"/><text x="50.5">Heading ▾</text><text x="75">to</text><g transform="translate(85)"><rect class="n" width="12"/><rect class="v" x="1.5" width="9"/><text x="2.5">180</text></g></g>
<g transform="translate(11,19.6)"><rect class="p" width="52"/><text x="2.5">call</text><rect class="f" x="11" width="39"/><text x="12.5">startAnimation2 ▾</text></g>
</g>
<g id="moverightfootdown" transform="translate(358,692)">
<rect class="E" width="74" height="27"/>
<g transform="translate(0,4.5)"><text x="2.5">when</text><rect class="f" x="14" width="45"/><text x="15.5">moverightfootdown ▾</text><text x="61">Click</text></g>
<g transform="translate(0,12)"><text x="2.5">do</text></g>
<g transform="translate(11,11.8)"><rect class="g" width="85"/><text x="2.5">set</text><rect class="f" x="11" width="35"/><text x="12.5">takerightfoot ▾</text><rect class="f" x="49" width="23"/><text x="50.5">Heading ▾</text><text x="75">to</text><g transform="translate(85)"><rect class="n" width="12"/><rect class="v" x="1.5" width="9"/><text x="2.5">270</text></g></g>
<g transform="translate(11,19.6)"><rect class="p" width="52"/><text x="2.5">call</text><rect class="f" x="11" width="39"/><text x="12.5">startAnimation2 ▾</text></g>
</g>

<g id="procStartAnimation3" transform="translate(44,733)">
<rect class="P" width="52" height="57"/>
<g transform="translate(0,4.5)"><rect class="ic" x="3"/><text x="10.5">to</text><rect class="f" x="16" width="35"/><text x="17.5">startAnimation3</text></g>
<g transform="translate(0,12.5)"><text x="3">do</text></g>
<g transform="translate(11,11.5)"><rect class="o" width="67"/><text x="2.5">set</text><rect class="f" x="11" width="43"/><text x="12.5">global frameCount ▾</text><text x="57">to</text><g transform="translate(67)"><rect class="n" width="8"/><rect class="v" x="1.5" width="5"/><text x="2.5">0</text></g></g>
<g transform="translate(11,19.3)"><rect class="g" width="83"/><text x="2.5">set</text><rect class="f" x="11" width="33"/><text x="12.5">takeleftfoot ▾</text><rect class="f" x="47" width="23"/><text x="48.5">Picture ▾</text><text x="73">to</text><g transform="translate(83)"><rect class="r" width="42"/><text x="1">&quot;</text><rect class="v" x="3.5" width="35"/><text x="4.5">takeleftfoot.png</text><text x="39.5">&quot;</text></g></g>
<g transform="translate(11,27.1)"><rect class="g" width="79"/><text x="2.5">set</text><rect class="f" x="11" width="33"/><text x="12.5">takeleftfoot ▾</text><rect class="f" x="47" width="19"/><text x="48.5">Speed ▾</text><text x="69">to</text><g transform="translate(79)"><rect class="n" width="8"/><rect class="v" x="1.5" width="5"/><text x="2.5">5</text></g></g>
<g transform="translate(11,34.9)"><rect class="g" width="85"/><text x="2.5">set</text><rect class="f" x="11" width="33"/><text x="12.5">takeleftfoot ▾</text><rect class="f" x="47" width="25"/><text x="48.5">Interval ▾</text><text x="75">to</text><g transform="translate(85)"><rect class="n" width="10"/><rect class="v" x="1.5" width="7"/><text x="2.5">40</text></g></g>
<g transform="translate(11,42.7)"><rect class="g" width="83"/><text x="2.5">set</text><rect class="f" x="11" width="33"/><text x="12.5">takeleftfoot ▾</text><rect class="f" x="47" width="23"/><text x="48.5">Enabled ▾</text><text x="73">to</text><g transform="translate(83)"><rect class="b" width="19"/><rect class="v" x="1.5" width="16"/><text x="2.5">true ▾</text></g></g>
<g transform="translate(11,50.5)"><rect class="g" width="81"/><text x="2.5">set</text><rect class="f" x="11" width="21"/><text x="12.5">Clock5 ▾</text><rect class="f" x="35" width="33"/><text x="36.5">TimerEnabled ▾</text><text x="71">to</text><g transform="translate(81)"><rect class="b" width="19"/><rect class="v" x="1.5" width="16"/><text x="2.5">true ▾</text></g></g>
</g>

<g id="clock5Timer" transform="translate(46,799)">
<rect class="E" width="54" height="57"/>
<g transform="translate(0,4.5)"><text x="3">when</text><rect class="f" x="15" width="21"/><text x="16.5">Clock5 ▾</text><text x="38.5">Timer</text></g>
<g transform="translate(0,12.5)"><text x="3">do</text><rect class="ic" x="12"/><text x="19.5">if</text><g transform="translate(34)"><rect class="nm" width="86"/><g transform="translate(6)"><rect class="og" width="54"/><text x="2">get</text><rect class="v" x="9.5" width="43"/><text x="11">global frameCount ▾</text></g><rect class="f" x="62" width="11"/><text x="63.5">&lt; ▾</text><rect class="n k" x="75" width="9"/><rect class="v" x="76.3" width="6.4"/><text x="78">5</text></g></g>
<g transform="translate(0,24.5)"><text x="12.5">then</text><g transform="translate(26)"><rect class="O" y="-5" width="67" height="10"/><text x="2.5">set</text><rect class="f" x="11" width="43"/><text x="12.5">global frameCount ▾</text><text x="57">to</text></g><g transform="translate(93)"><rect class="N" y="-5.5" width="90" height="11"/><rect class="ic" x="2"/><g transform="translate(9)"><rect class="og" width="54"/><text x="2">get</text><rect class="v" x="9.5" width="43"/><text x="11">global frameCount ▾</text></g><text x="67">+</text><rect class="n k" x="73" width="10"/><rect class="v" x="74.5" width="7"/><text x="76.5">1</text></g></g>
<g transform="translate(0,37)"><text x="12.5">else</text></g>
<g transform="translate(26,37)"><rect class="g" width="81"/><text x="2.5">set</text><rect class="f" x="11" width="21"/><text x="12.5">Clock5 ▾</text><rect class="f" x="35" width="33"/><text x="36.5">TimerEnabled ▾</text><text x="71">to</text><g transform="translate(81)"><rect class="b" width="21"/><rect class="v" x="1.5" width="18"/><text x="2.5">false ▾</text></g></g>
<g transform="translate(26,44.8)"><rect class="g" width="83"/><text x="2.5">set</text><rect class="f" x="11" width="33"/><text x="12.5">takeleftfoot ▾</text><rect class="f" x="47" width="23"/><text x="48.5">Enabled ▾</text><text x="73">to</text><g transform="translate(83)"><rect class="b" width="21"/><rect class="v" x="1.5" width="18"/><text x="2.5">false ▾</text></g></g>
</g>

<g id="procStartAnimation4" transform="translate(242,730)">
<rect class="P" width="52" height="57"/>
<g transform="translate(0,4.5)"><rect class="ic" x="3"/><text x="10.5">to</text><rect class="f" x="16" width="35"/><text x="17.5">startAnimation4</text></g>
<g transform="translate(0,12.5)"><text x="3">do</text></g>
<g transform="translate(11,11)"><rect class="o" width="67"/><text x="2.5">set</text><rect class="f" x="11" width="43"/><text x="12.5">global frameCount ▾</text><text x="57">to</text><g transform="translate(67)"><rect class="n" width="8"/><rect class="v" x="1.5" width="5"/><text x="2.5">0</text></g></g>
<g transform="translate(11,18.8)"><rect class="g" width="83"/><text x="2.5">set</text><rect class="f" x="11" width="33"/><text x="12.5">takeleftfoot ▾</text><rect class="f" x="47" width="23"/><text x="48.5">Picture ▾</text><text x="73">to</text><g transform="translate(83)"><rect class="r" width="42"/><text x="1">&quot;</text><rect class="v" x="3.5" width="35"/><text x="4.5">takeleftfoot.png</text><text x="39.5">&quot;</text></g></g>
<g transform="translate(11,26.6)"><rect class="g" width="79"/><text x="2.5">set</text><rect class="f" x="11" width="33"/><text x="12.5">takeleftfoot ▾</text><rect class="f" x="47" width="19"/><text x="48.5">Speed ▾</text><text x="69">to</text><g transform="translate(79)"><rect class="n" width="8"/><rect class="v" x="1.5" width="5"/><text x="2.5">5</text></g></g>
<g transform="translate(11,34.4)"><rect class="g" width="85"/><text x="2.5">set</text><rect class="f" x="11" width="33"/><text x="12.5">takeleftfoot ▾</text><rect class="f" x="47" width="25"/><text x="48.5">Interval ▾</text><text x="75">to</text><g transform="translate(85)"><rect class="n" width="10"/><rect class="v" x="1.5" width="7"/><text x="2.5">40</text></g></g>
<g transform="translate(11,42.2)"><rect class="g" width="83"/><text x="2.5">set</text><rect class="f" x="11" width="33"/><text x="12.5">takeleftfoot ▾</text><rect class="f" x="47" width="23"/><text x="48.5">Enabled ▾</text><text x="73">to</text><g transform="translate(83)"><rect class="b" width="19"/><rect class="v" x="1.5" width="16"/><text x="2.5">true ▾</text></g></g>
<g transform="translate(11,50)"><rect class="g" width="81"/><text x="2.5">set</text><rect class="f" x="11" width="21"/><text x="12.5">Clock4 ▾</text><rect class="f" x="35" width="33"/><text x="36.5">TimerEnabled ▾</text><text x="71">to</text><g transform="translate(81)"><rect class="b" width="19"/><rect class="v" x="1.5" width="16"/><text x="2.5">true ▾</text></g></g>
</g>

<g id="clock4Timer" transform="translate(243,793)">
<rect class="E" width="54" height="57"/>
<g transform="translate(0,4.5)"><text x="3">when</text><rect class="f" x="15" width="21"/><text x="16.5">Clock4 ▾</text><text x="38.5">Timer</text></g>
<g transform="translate(0,12)"><text x="3">do</text><rect class="ic" x="12"/><text x="19.5">if</text><g transform="translate(36)"><rect class="nm" width="87"/><g transform="translate(6)"><rect class="og" width="54"/><text x="2">get</text><rect class="v" x="9.5" width="43"/><text x="11">global frameCount ▾</text></g><rect class="f" x="62" width="11"/><text x="63.5">&lt; ▾</text><rect class="n k" x="75" width="9"/><rect class="v" x="76.3" width="6.4"/><text x="78">5</text></g></g>
<g transform="translate(0,23.5)"><text x="12.5">then</text><g transform="translate(27)"><rect class="O" y="-5" width="67" height="10"/><text x="2.5">set</text><rect class="f" x="11" width="43"/><text x="12.5">global frameCount ▾</text><text x="57">to</text></g><g transform="translate(94)"><rect class="N" y="-5.5" width="90" height="11"/><rect class="ic" x="2"/><g transform="translate(9)"><rect class="og" width="54"/><text x="2">get</text><rect class="v" x="9.5" width="43"/><text x="11">global frameCount ▾</text></g><text x="67">+</text><rect class="n k" x="73" width="10"/><rect class="v" x="74.5" width="7"/><text x="76.5">1</text></g></g>
<g transform="translate(0,37)"><text x="12.5">else</text></g>
<g transform="translate(27,37)"><rect class="g" width="81"/><text x="2.5">set</text><rect class="f" x="11" width="21"/><text x="12.5">Clock4 ▾</text><rect class="f" x="35" width="33"/><text x="36.5">TimerEnabled ▾</text><text x="71">to</text><g transform="translate(81)"><rect class="b" width="21"/><rect class="v" x="1.5" width="18"/><text x="2.5">false ▾</text></g></g>
<g transform="translate(27,44.8)"><rect class="g" width="83"/><text x="2.5">set</text><rect class="f" x="11" width="33"/><text x="12.5">takeleftfoot ▾</text><rect class="f" x="47" width="23"/><text x="48.5">Enabled ▾</text><text x="73">to</text><g transform="translate(83)"><rect class="b" width="21"/><rect class="v" x="1.5" width="18"/><text x="2.5">false ▾</text></g></g>
</g>

<g id="moveleftfoottotheleft" transform="translate(47,864)">
<rect class="E" width="83" height="27"/>
<g transform="translate(0,4.5)"><text x="2.5">when</text><rect class="f" x="14" width="52"/><text x="15.5">moveleftfoottotheleft ▾</text><text x="68.5">Click</text></g>
<g transform="translate(0,12)"><text x="2.5">do</text></g>
<g transform="translate(11,11.8)"><rect class="g" width="83"/><text x="2.5">set</text><rect class="f" x="11" width="33"/><text x="12.5">takeleftfoot ▾</text><rect class="f" x="47" width="23"/><text x="48.5">Heading ▾</text><text x="73">to</text><g transform="translate(83)"><rect class="n" width="12"/><rect class="v" x="1.5" width="9"/><text x="2.5">180</text></g></g>
<g transform="translate(11,19.6)"><rect class="p" width="52"/><text x="2.5">call</text><rect class="f" x="11" width="39"/><text x="12.5">startAnimation3 ▾</text></g>
</g>
<g id="moveleftfootup" transform="translate(157,866)">
<rect class="E" width="71" height="26"/>
<g transform="translate(0,4.5)"><text x="2.5">when</text><rect class="f" x="14" width="36"/><text x="15.5">moveleftfootup ▾</text><text x="52.5">Click</text></g>
<g transform="translate(0,12)"><text x="2.5">do</text></g>
<g transform="translate(11,11.8)"><rect class="g" width="83"/><text x="2.5">set</text><rect class="f" x="11" width="33"/><text x="12.5">takeleftfoot ▾</text><rect class="f" x="47" width="23"/><text x="48.5">Heading ▾</text><text x="73">to</text><g transform="translate(83)"><rect class="n" width="10"/><rect class="v" x="1.5" width="7"/><text x="2.5">90</text></g></g>
<g transform="translate(11,19.6)"><rect class="p" width="52"/><text x="2.5">call</text><rect class="f" x="11" width="39"/><text x="12.5">startAnimation3 ▾</text></g>
</g>
<g id="moveleftfoottotheright" transform="translate(48,899)">
<rect class="E" width="84" height="27"/>
<g transform="translate(0,4.5)"><text x="2.5">when</text><rect class="f" x="14" width="54"/><text x="15.5">moveleftfoottotheright ▾</text><text x="70">Click</text></g>
<g transform="translate(0,12)"><text x="2.5">do</text></g>
<g transform="translate(11,11.8)"><rect class="g" width="83"/><text x="2.5">set</text><rect class="f" x="11" width="33"/><text x="12.5">takeleftfoot ▾</text><rect class="f" x="47" width="23"/><text x="48.5">Heading ▾</text><text x="73">to</text><g transform="translate(83)"><rect class="n" width="8"/><rect class="v" x="1.5" width="5"/><text x="2.5">0</text></g></g>
<g transform="translate(11,19.6)"><rect class="p" width="52"/><text x="2.5">call</text><rect class="f" x="11" width="39"/><text x="12.5">startAnimation3 ▾</text></g>
</g>
<g id="moveleftfootdown" transform="translate(155,904)">
<rect class="E" width="74" height="26"/>
<g transform="translate(0,4.5)"><text x="2.5">when</text><rect class="f" x="14" width="45"/><text x="15.5">moveleftfootdown ▾</text><text x="61">Click</text></g>
<g transform="translate(0,12)"><text x="2.5">do</text></g>
<g transform="translate(11,11.8)"><rect class="g" width="83"/><text x="2.5">set</text><rect class="f" x="11" width="33"/><text x="12.5">takeleftfoot ▾</text><rect class="f" x="47" width="23"/><text x="48.5">Heading ▾</text><text x="73">to</text><g transform="translate(83)"><rect class="n" width="12"/><rect class="v" x="1.5" width="9"/><text x="2.5">270</text></g></g>
<g transform="translate(11,19.6)"><rect class="p" width="52"/><text x="2.5">call</text><rect class="f" x="11" width="39"/><text x="12.5">startAnimation3 ▾</text></g>
</g>
<g id="rightfootshooting" transform="translate(275,858)">
<rect class="E" width="75" height="28"/>
<g transform="translate(0,4.5)"><text x="2.5">when</text><rect class="f" x="14" width="43"/><text x="15.5">rightfootshooting ▾</text><text x="59.5">Click</text></g>
<g transform="translate(0,12)"><text x="2.5">do</text></g>
<g transform="translate(11,11.8)"><rect class="g" width="83"/><text x="2.5">set</text><rect class="f" x="11" width="33"/><text x="12.5">takeleftfoot ▾</text><rect class="f" x="47" width="23"/><text x="48.5">Heading ▾</text><text x="73">to</text><g transform="translate(83)"><rect class="n" width="10"/><rect class="v" x="1.5" width="7"/><text x="2.5">90</text></g></g>
<g transform="translate(11,19.6)"><rect class="p" width="52"/><text x="2.5">call</text><rect class="f" x="11" width="39"/><text x="12.5">startAnimation4 ▾</text></g>
</g>

<g id="backtomain" transform="translate(50,935)">
<rect class="E" width="87" height="18"/>
<g transform="translate(0,4.5)"><text x="2.5">when</text><rect class="f" x="13" width="58"/><text x="14.5">Buttonbacktomainscreen ▾</text><text x="73.5">Click</text></g>
<g transform="translate(0,12.3)"><text x="2.5">do</text><text x="13">open another screen</text><text x="57">screenName</text><g transform="translate(87)"><rect class="r" width="28"/><text x="1">&quot;</text><rect class="v" x="3.5" width="21"/><text x="5">Screen1</text><text x="25.5">&quot;</text></g></g>
</g>

<g id="hideShowClick" transform="translate(104,961)">
<rect class="E" width="99" height="28"/>
<g transform="translate(0,4.5)"><text x="2.5">when</text><rect class="f" x="14" width="68"/><text x="15.5">Buttonhideandshowinstructions ▾</text><text x="85">Click</text></g>
<g transform="translate(0,12)"><text x="2.5">do</text></g>
<g transform="translate(11,11.5)"><rect class="g" width="111"/><text x="2.5">set</text><rect class="f" x="11" width="61"/><text x="12.5">Horizontallineinstructions ▾</text><rect class="f" x="75" width="23"/><text x="76.5">Visible ▾</text><text x="101">to</text><g transform="translate(111)"><rect class="b" width="21"/><rect class="v" x="1.5" width="18"/><text x="2.5">false ▾</text></g></g>
<g transform="translate(11,19.3)"><rect class="g" width="89"/><text x="2.5">set</text><rect class="f" x="11" width="39"/><text x="12.5">Horizontalflags ▾</text><rect class="f" x="53" width="23"/><text x="54.5">Visible ▾</text><text x="79">to</text><g transform="translate(89)"><rect class="b" width="21"/><rect class="v" x="1.5" width="18"/><text x="2.5">false ▾</text></g></g>
</g>

<g id="hideShowLongClick" transform="translate(270,970)">
<rect class="E" width="110" height="32"/>
<g transform="translate(0,4.5)"><text x="2.5">when</text><rect class="f" x="14" width="68"/><text x="15.5">Buttonhideandshowinstructions ▾</text><text x="85">LongClick</text></g>
<g transform="translate(0,12.5)"><text x="2.5">do</text></g>
<g transform="translate(11,12)"><rect class="g" width="111"/><text x="2.5">set</text><rect class="f" x="11" width="61"/><text x="12.5">Horizontallineinstructions ▾</text><rect class="f" x="75" width="23"/><text x="76.5">Visible ▾</text><text x="101">to</text><g transform="translate(111)"><rect class="b" width="19"/><rect class="v" x="1.5" width="16"/><text x="2.5">true ▾</text></g></g>
<g transform="translate(11,19.8)"><rect class="g" width="89"/><text x="2.5">set</text><rect class="f" x="11" width="39"/><text x="12.5">Horizontalflags ▾</text><rect class="f" x="53" width="23"/><text x="54.5">Visible ▾</text><text x="79">to</text><g transform="translate(89)"><rect class="b" width="19"/><rect class="v" x="1.5" width="16"/><text x="2.5">true ▾</text></g></g>
</g>
</svg>
